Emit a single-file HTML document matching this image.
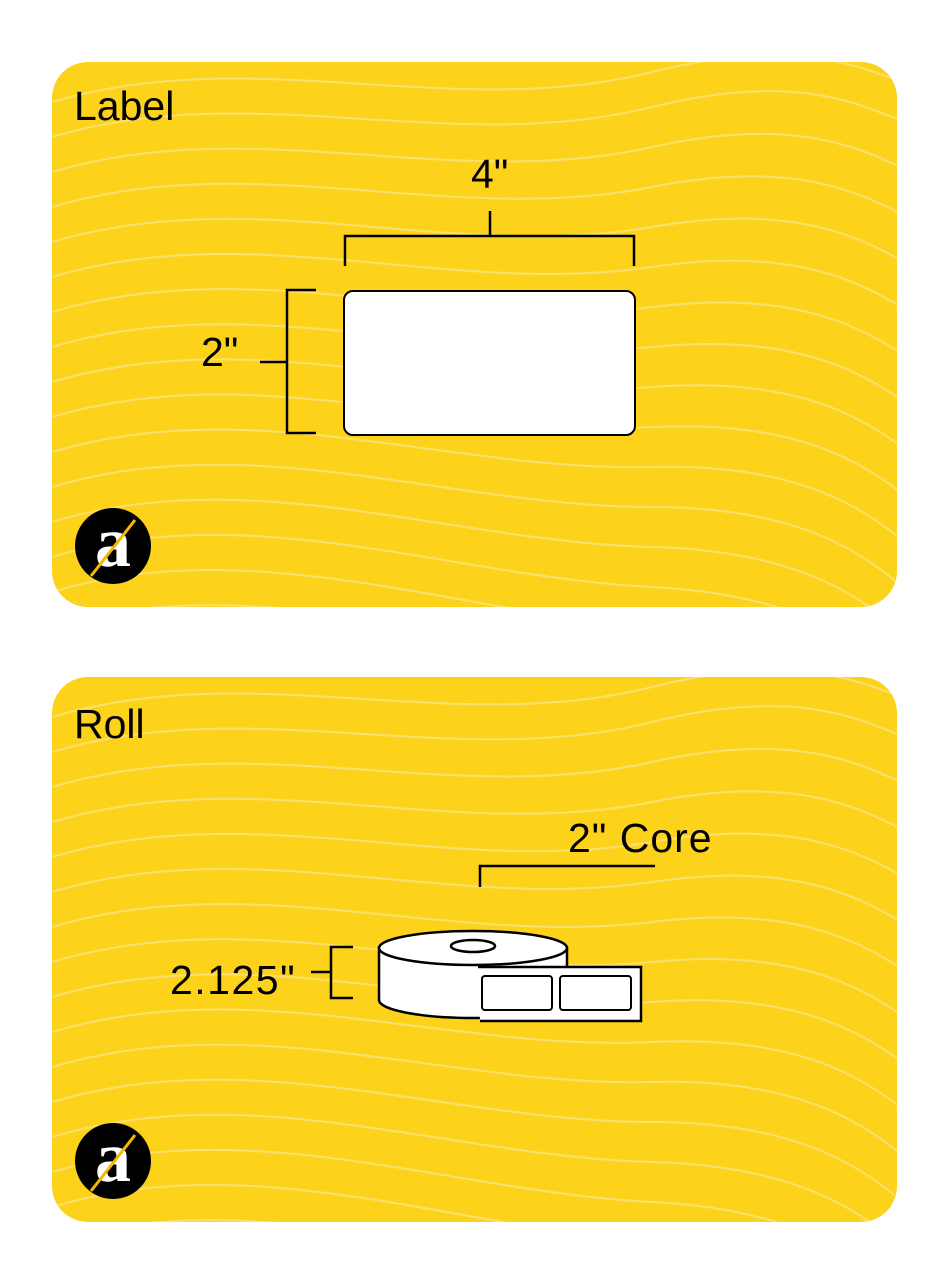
<!DOCTYPE html>
<html><head><style>
html,body{margin:0;background:#fff;width:951px;height:1280px;overflow:hidden;font-family:"Liberation Sans",Arial,sans-serif}
svg{display:block}
</style></head><body>
<svg width="951" height="1280" viewBox="0 0 951 1280" xmlns="http://www.w3.org/2000/svg">
<defs>
<clipPath id="c1"><rect x="52" y="62" width="845" height="545" rx="36"/></clipPath>
<clipPath id="c2"><rect x="52" y="677" width="845" height="545" rx="36"/></clipPath>
<g id="waves" fill="none" stroke="#fbe27a" stroke-width="2" opacity="0.9">
<path d="M0,40 C200,-20 400,60 600,10 S850,40 900,30"/>
<path d="M0,75 C200,15 400,95 600,45 S850,80 900,70"/>
<path d="M0,110 C200,50 400,130 600,85 S850,125 900,120"/>
<path d="M0,145 C200,85 400,165 600,125 S850,170 900,170"/>
<path d="M0,180 C200,120 400,200 600,165 S850,215 900,220"/>
<path d="M0,215 C200,155 400,235 600,205 S850,260 900,270"/>
<path d="M0,250 C200,190 400,270 600,245 S850,305 900,320"/>
<path d="M0,285 C200,225 400,305 600,285 S850,350 900,370"/>
<path d="M0,320 C200,260 400,340 600,325 S850,395 900,420"/>
<path d="M0,355 C200,295 400,375 600,365 S850,440 900,470"/>
<path d="M0,390 C200,330 400,410 600,405 S850,485 900,520"/>
<path d="M0,425 C200,365 400,445 600,445 S850,530 900,570"/>
<path d="M0,460 C200,400 400,480 600,485 S850,575 900,620"/>
<path d="M0,495 C200,435 400,515 600,525 S850,620 900,670"/>
<path d="M0,530 C200,470 400,550 600,565 S850,665 900,720"/>
<path d="M0,565 C200,505 400,585 600,605 S850,710 900,770"/>
</g>
<g id="logo">
<circle cx="0" cy="0" r="38" fill="#000"/>
<text x="0" y="20" text-anchor="middle" font-family="Liberation Serif,serif" font-weight="bold" font-size="72" fill="#fff">a</text>
<line x1="-22" y1="30" x2="22" y2="-26" stroke="#f5b800" stroke-width="3"/>
</g>
</defs>
<rect x="52" y="62" width="845" height="545" rx="36" fill="#fcd31a"/>
<g clip-path="url(#c1)"><use href="#waves" transform="translate(52,62)"/></g>
<rect x="52" y="677" width="845" height="545" rx="36" fill="#fcd31a"/>
<g clip-path="url(#c2)"><use href="#waves" transform="translate(52,677)"/></g>
<use href="#logo" transform="translate(113,546)"/>
<use href="#logo" transform="translate(113,1161)"/>

<text x="74" y="120" font-size="41" fill="#000">Label</text>
<text x="471" y="188" font-size="41" fill="#000">4"</text>
<text x="201" y="366" font-size="41" fill="#000">2"</text>
<g fill="none" stroke="#000" stroke-width="2.5">
<path d="M345,266 V236 H634 V266 M490,236 V211"/>
<path d="M316,290 H287 V433 H316 M287,362 H260"/>
</g>
<rect x="344" y="291" width="291" height="144" rx="9" fill="#fff" stroke="#000" stroke-width="2"/>

<text x="74" y="738" font-size="41" fill="#000">Roll</text>
<text x="568" y="852" font-size="41" letter-spacing="1" fill="#000">2" Core</text>
<text x="170" y="994" font-size="41" letter-spacing="1.5" fill="#000">2.125"</text>
<g fill="none" stroke="#000" stroke-width="2.5">
<path d="M480,887 V866 H655"/>
<path d="M353,947 H331 V998 H353 M331,972 H311"/>
</g>
<g stroke="#000" stroke-width="2.5" fill="#fff">
<path d="M379,948 V1000 A94,18 0 0 0 567,1000 V948 Z"/>
<ellipse cx="473" cy="948" rx="94" ry="17"/>
<ellipse cx="473" cy="946" rx="22" ry="6"/>
<path d="M478,967 H641 V1021 H480" />
<rect x="482" y="976" width="70" height="34" rx="3" stroke-width="2"/>
<rect x="560" y="976" width="71" height="34" rx="3" stroke-width="2"/>
</g>
</svg>
</body></html>
